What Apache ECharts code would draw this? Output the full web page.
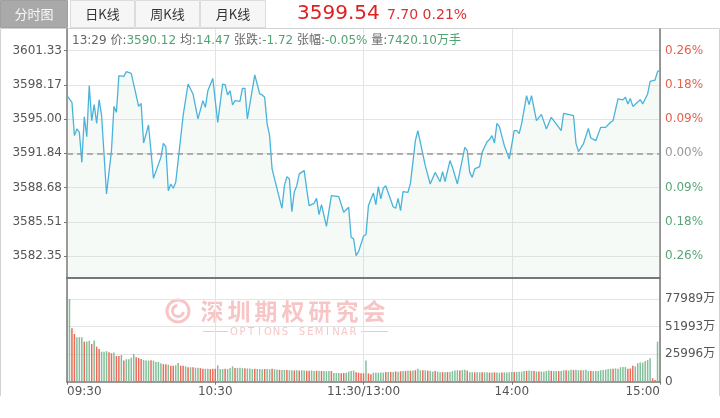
<!DOCTYPE html>
<html><head><meta charset="utf-8">
<script src="https://cdn.jsdelivr.net/npm/echarts@6/dist/echarts.min.js"></script>
<style>html,body{margin:0;padding:0;background:#fff}#c{width:720px;height:418px}</style>
</head><body><div id="c"></div>
<script>
// ---------- data ----------
const prevClose = 3591.84;
const lastPrice = '3599.54';
const lastChange = '7.70 0.21%';
const priceTicks = [3582.35, 3585.51, 3588.68, 3591.84, 3595.00, 3598.17, 3601.33];
const pctTickText = ['0.26%', '0.18%', '0.09%', '0.00%', '0.09%', '0.18%', '0.26%'];
const volTicks = [0, 25996, 51993, 77989];
const volTickText = ['0', '25996万', '51993万', '77989万'];
const xTickIndex = [0, 60, 120, 180, 240];
const xTickText = ['09:30', '10:30', '11:30/13:00', '14:00', '15:00'];
const tabs = ['分时图', '日K线', '周K线', '月K线'];
const infoLabels = ['13:29 价:', ' 均:', ' 张跌:', ' 张幅:', ' 量:'];
const infoValues = ['3590.12', '14.47', '-1.72', '-0.05%', '7420.10万手'];

const lineMinute = [0,2,3,4,5,6,7,8,9,10,11,12,13,14,16,18,19,20,21,23,24,26,29,30,31,33,35,38,39,40,41,42,43,44,47,49,51,53,55,56,57,59,61,63,64,65,66,67,68,70,71,72,73,76,78,79,80,81,82,83,87,88,89,90,91,92,93,94,96,97,98,100,101,102,103,105,107,110,112,114,115,116,117,118,120,121,122,124,125,126,127,128,129,132,133,134,135,136,138,139,141,142,145,147,149,151,152,153,155,156,158,159,161,162,163,164,165,167,168,170,171,172,173,174,175,177,179,181,182,183,184,186,187,188,190,192,194,196,197,200,201,205,206,207,209,211,212,214,216,218,220,221,223,225,226,227,228,229,232,233,235,236,238,239,240];
const linePrice = [3597.17,3596.55,3593.48,3594.10,3593.78,3591.01,3595.23,3593.38,3598.10,3594.86,3596.34,3594.61,3596.80,3595.32,3588.09,3592.09,3596.18,3595.63,3599.02,3598.96,3599.39,3599.23,3596.18,3596.46,3592.80,3594.46,3589.53,3591.47,3592.76,3592.46,3588.39,3589.01,3588.61,3589.16,3595.32,3598.25,3597.33,3595.02,3596.71,3596.09,3597.63,3598.77,3594.71,3598.25,3598.19,3597.24,3597.63,3596.31,3596.71,3596.65,3597.85,3597.85,3595.02,3599.09,3597.33,3597.24,3597.02,3594.56,3593.48,3590.40,3586.76,3588.85,3589.69,3589.47,3586.45,3588.30,3588.85,3589.94,3590.24,3588.55,3587.01,3587.22,3587.68,3586.17,3587.10,3585.09,3587.93,3587.84,3586.39,3586.85,3584.08,3583.93,3582.39,3582.75,3584.17,3584.33,3587.01,3588.18,3587.10,3588.76,3587.63,3588.61,3588.85,3586.91,3586.76,3587.68,3586.54,3588.30,3588.24,3589.07,3593.01,3593.94,3590.70,3589.01,3590.08,3589.22,3590.15,3589.22,3591.17,3590.55,3589.01,3590.15,3592.39,3592.09,3590.08,3589.62,3590.40,3590.61,3591.93,3592.92,3593.11,3593.48,3592.80,3594.61,3594.31,3592.55,3591.32,3593.94,3593.94,3593.66,3594.58,3597.17,3596.34,3597.17,3594.86,3595.44,3594.10,3595.17,3594.86,3593.94,3595.54,3595.32,3592.76,3592.00,3592.71,3594.15,3593.26,3593.01,3594.24,3594.24,3594.71,3594.86,3596.87,3596.78,3597.02,3596.41,3596.92,3596.18,3596.80,3596.41,3597.33,3598.49,3598.62,3599.39,3599.54];

const volume = [0,
78000,50500,45000,42000,42000,42000,37800,37800,38500,35600,
38800,33000,30900,28300,28300,28800,27800,26800,27500,24300,
24300,25200,19900,21200,21200,22500,26200,23000,22400,21500,
20500,19900,19900,20200,19900,18600,18600,17500,16500,16500,
16000,15100,15100,15500,17700,15000,15000,14500,13600,13600,
13600,13200,13200,12800,12300,12300,12300,12000,12300,12300,
15500,12000,12000,12300,12000,13000,14500,13000,13000,13200,
12800,12800,12500,12500,12000,12200,12000,12000,11800,12000,
12000,11800,12200,11800,11500,11200,11000,11200,11000,10800,
10800,10600,10800,10500,10800,10600,10400,10400,10600,10200,
10300,10400,10100,10100,10000,10200,10000,8200,8200,8300,
8000,8200,8400,9500,10200,10600,9000,8500,7900,7900,
19900,7900,7000,8500,8500,8500,8600,8600,9100,9100,
9300,9100,9700,9500,9800,10000,10000,10500,10300,10500,
10800,12300,10700,10700,10700,10500,10000,9500,10000,9500,
9000,9000,9000,9100,9100,10000,10500,10800,10500,11000,
11200,10500,9000,8800,8800,8800,8800,8800,8800,9000,
8600,8600,8800,8600,8400,8600,8800,8600,8900,9200,
9200,9200,9400,9400,10200,10200,10500,10200,10200,9600,
9600,9600,9400,10200,10500,10200,10200,10200,10000,10000,
10800,10800,10500,11200,11000,11200,10800,10800,10800,11200,
10000,10200,10000,10200,10000,10800,11000,11400,12000,12300,
12300,12600,12300,13600,13800,13800,12300,12500,15100,14500,
17400,18000,18000,19500,20500,22100,3200,1500,37800,0];
const volDir = '-' +
 'grrgggrggr' + 'grrgggrrgr' + 'rgrggggrrr' + 'gggrggggrr' + 'grrggrrgrg' + 'rggrrggrrr' +
 'gggrgggrgg' + 'grgggrgggr' + 'ggrggrggrg' + 'grgrggrrgg' + 'rgrgggrggg' + 'rrggggrrrr' +
 'grrgggggrg' + 'rgrgrgrgrg' + 'rggrgrggrg' + 'grgrggggrg' + 'grggrggrgg' + 'rgrggrgggg' +
 'rggggrggrg' + 'rggggrggrg' + 'grggrggrgg' + 'grgggggggg' + 'rgggggrrrg' + 'ggggggrrgg';

// ---------- categories (trading minutes) ----------
const pad = n => (n < 10 ? '0' : '') + n;
const categories = [];
for (let i = 0; i <= 240; i++) {
  const m = i <= 120 ? 9 * 60 + 30 + i : 13 * 60 + (i - 120);
  categories.push(pad(Math.floor(m / 60)) + ':' + pad(m % 60));
}

// ---------- layout ----------
const L = 67, R = 660, T = 29, PT = 50.7, PB = 256, VT = 278, VB = 381.7;
const FONT = "'DejaVu Sans','Noto Sans CJK SC',sans-serif";
const CJK = "'Noto Sans CJK SC','DejaVu Sans',sans-serif";
const pMin = priceTicks[0], pMax = priceTicks[priceTicks.length - 1];
const pInterval = (pMax - pMin) / (priceTicks.length - 1);
const fillOrigin = pMin - (VT - 1 - PB) * (pMax - pMin) / (PB - PT);
const volInterval = volTicks[3] / 3;
const volMax = volTicks[3] * (VB - VT) / (VB - 299);
const RED = '#ec6b58', GREEN = '#82bf9a';
const isTick = i => xTickIndex.indexOf(i) >= 0;
const nearest = (arr, v, tol) => { for (let k = 0; k < arr.length; k++) if (Math.abs(arr[k] - v) < tol) return k; return -1; };

const chart = echarts.init(document.getElementById('c'), null, { renderer: 'canvas' });

const graphic = [];
// outer box
graphic.push({ type: 'polyline', shape: { points: [[0.5, 396], [0.5, 28.5], [719.5, 28.5], [719.5, 396]] }, style: { stroke: '#d2d2d2', fill: null, lineWidth: 1 }, z: 0 });
// tabs
const tabX = [[0, 68], [70, 135], [135, 200], [200, 266]];
tabs.forEach((t, k) => {
  const [a, b] = tabX[k];
  graphic.push({ type: 'rect', shape: { x: a + 0.5, y: 0.5, width: b - a - 1, height: 27 },
    style: { fill: k === 0 ? '#a9a9a9' : '#f6f6f6', stroke: k === 0 ? '#a0a0a0' : '#dcdcdc', lineWidth: 1 }, z: 1 });
  graphic.push({ type: 'text', x: (a + b) / 2, y: 14.5, style: { text: t, fill: k === 0 ? '#f8f8f8' : '#333', font: '13px ' + CJK, align: 'center', verticalAlign: 'middle' }, z: 2 });
});
// header price
graphic.push({ type: 'text', x: 297, y: 14, style: { text: lastPrice, fill: '#dd2020', font: '20px ' + FONT, verticalAlign: 'middle' }, z: 2 });
graphic.push({ type: 'text', x: 387, y: 15, style: { text: lastChange, fill: '#dd3030', font: '14px ' + FONT, verticalAlign: 'middle' }, z: 2 });
// info row
graphic.push({ type: 'text', x: 72, y: 41, z: 5, style: {
  text: infoLabels.map((l, k) => '{l|' + l + '}{v|' + infoValues[k] + '}').join(''),
  font: '12px ' + FONT, verticalAlign: 'middle',
  rich: { l: { fill: '#666', font: '12px ' + FONT }, v: { fill: '#4fa373', font: '12px ' + FONT } } } });
// watermark
const WM = 'rgba(236,110,110,0.4)';
const wmChildren = [
  { type: 'circle', shape: { cx: 178, cy: 311, r: 11 }, style: { stroke: WM, fill: null, lineWidth: 3 } },
  { type: 'arc', shape: { cx: 178, cy: 311, r: 5.5, startAngle: 0.2, endAngle: 4.6 }, style: { stroke: WM, fill: null, lineWidth: 3 } },
  { type: 'line', shape: { x1: 203, y1: 331.5, x2: 228, y2: 331.5 }, style: { stroke: WM, lineWidth: 1 } },
  { type: 'line', shape: { x1: 361, y1: 331.5, x2: 388, y2: 331.5 }, style: { stroke: WM, lineWidth: 1 } }
];
'深圳期权研究会'.split('').forEach((ch, k) => wmChildren.push({ type: 'text', x: 212 + k * 27, y: 311,
  style: { text: ch, fill: WM, font: 'bold 23px ' + CJK, align: 'center', verticalAlign: 'middle' } }));
'OPTIONS SEMINAR'.split('').forEach((ch, k) => wmChildren.push({ type: 'text', x: 234 + k * 8.5, y: 332,
  style: { text: ch, fill: WM, font: '10px ' + FONT, align: 'center', verticalAlign: 'middle' } }));
graphic.push({ type: 'group', z: 1, children: wmChildren });

const axisLineStyle = { color: '#777', width: 1.5 };

const option = {
  animation: false,
  backgroundColor: '#fff',
  graphic: graphic,
  grid: [
    { left: L, top: T, width: R - L, height: VB - T },
    { left: L, top: PT, width: R - L, height: PB - PT },
    { left: L, top: VT, width: R - L, height: VB - VT }
  ],
  xAxis: [
    { gridIndex: 0, type: 'category', data: categories, boundaryGap: false,
      axisLine: { show: false }, axisTick: { show: false }, axisLabel: { show: false },
      splitLine: { show: true, interval: (i) => isTick(i), lineStyle: { color: '#e4e4e4', width: 1 } } },
    { gridIndex: 1, type: 'category', data: categories, boundaryGap: false, show: false },
    { gridIndex: 2, type: 'category', data: categories, boundaryGap: false, position: 'bottom',
      axisLine: { show: true, lineStyle: axisLineStyle },
      axisTick: { show: true, interval: (i) => isTick(i), length: 3, lineStyle: { color: '#777' } },
      axisLabel: { interval: (i) => isTick(i), formatter: (v, i) => { const k = xTickIndex.indexOf(i); return k >= 0 ? xTickText[k] : ''; },
        color: '#555', fontSize: 12, fontFamily: FONT, margin: 4, alignMinLabel: 'left', alignMaxLabel: 'right' },
      splitLine: { show: false } },
    { gridIndex: 2, type: 'category', data: categories, boundaryGap: false, position: 'top',
      axisLine: { show: true, lineStyle: { color: '#777', width: 2 } }, axisTick: { show: false }, axisLabel: { show: false }, splitLine: { show: false } }
  ],
  yAxis: [
    { gridIndex: 0, type: 'value', min: 0, max: 1, position: 'left', axisLine: { show: true, lineStyle: axisLineStyle },
      axisTick: { show: false }, axisLabel: { show: false }, splitLine: { show: false } },
    { gridIndex: 0, type: 'value', min: 0, max: 1, position: 'right', axisLine: { show: true, lineStyle: axisLineStyle },
      axisTick: { show: false }, axisLabel: { show: false }, splitLine: { show: false } },
    { gridIndex: 1, type: 'value', min: pMin, max: pMax, interval: pInterval, position: 'left',
      axisLine: { show: false }, axisTick: { show: true, length: 3, lineStyle: { color: '#777' } },
      axisLabel: { color: '#555', fontSize: 12, fontFamily: FONT, margin: 5,
        formatter: (v) => { const k = nearest(priceTicks, v, 0.02); return k >= 0 ? priceTicks[k].toFixed(2) : ''; } },
      splitLine: { show: true, lineStyle: { color: '#e4e4e4', width: 1 } } },
    { gridIndex: 1, type: 'value', min: pMin, max: pMax, interval: pInterval, position: 'right',
      axisLine: { show: false }, axisTick: { show: false }, splitLine: { show: false },
      axisLabel: { fontSize: 12, fontFamily: FONT, margin: 5,
        formatter: (v) => { const k = nearest(priceTicks, v, 0.02); if (k < 0) return ''; const key = k > 3 ? 'up' : (k < 3 ? 'dn' : 'eq'); return '{' + key + '|' + pctTickText[k] + '}'; },
        rich: { up: { color: '#e5614e', fontSize: 12, fontFamily: FONT }, dn: { color: '#5aa57a', fontSize: 12, fontFamily: FONT }, eq: { color: '#999', fontSize: 12, fontFamily: FONT } } } },
    { gridIndex: 2, type: 'value', min: 0, max: volMax, interval: volInterval, position: 'right',
      axisLine: { show: false }, axisTick: { show: false },
      axisLabel: { color: '#555', fontSize: 12, fontFamily: FONT, margin: 5,
        formatter: (v) => { const k = nearest(volTicks, v, 5); return k >= 0 ? volTickText[k] : ''; } },
      splitLine: { show: true, lineStyle: { color: '#e4e4e4', width: 1 } } }
  ],
  series: [
    { type: 'line', xAxisIndex: 1, yAxisIndex: 2, data: lineMinute.map((m, k) => [m, linePrice[k]]),
      symbol: 'none', showSymbol: false, clip: false, z: 3,
      lineStyle: { color: '#4ab3da', width: 1.3 },
      areaStyle: { color: 'rgba(190,225,205,0.22)', origin: fillOrigin },
      markLine: { silent: true, symbol: ['none', 'none'], label: { show: false },
        lineStyle: { color: '#999', type: [6, 4], width: 1.5 }, data: [{ yAxis: prevClose }] } },
    { type: 'bar', xAxisIndex: 2, yAxisIndex: 4, data: volume, barWidth: 1.5, z: 3,
      itemStyle: { color: (p) => volDir[p.dataIndex] === 'r' ? RED : GREEN } }
  ]
};
chart.setOption(option);
</script></body></html>
